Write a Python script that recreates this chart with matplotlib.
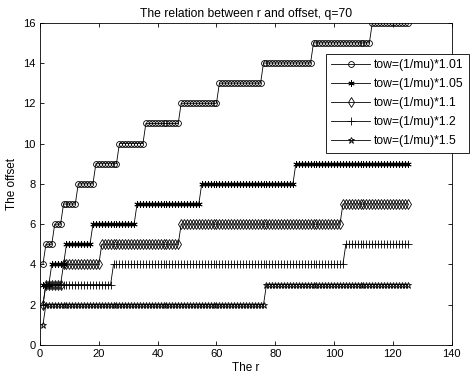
import numpy as np
import matplotlib
matplotlib.use("Agg")
import matplotlib.pyplot as plt

plt.rcParams['font.family'] = ['Liberation Sans', 'DejaVu Sans']

# r runs 1..125; each series is a step function given as (level, run length)
r = np.arange(1, 126)

labels = ["tow=(1/mu)*1.01", "tow=(1/mu)*1.05", "tow=(1/mu)*1.1",
          "tow=(1/mu)*1.2", "tow=(1/mu)*1.5"]

levels_101 = [4, 5, 6, 7, 8, 9, 10, 11, 12, 13, 14, 15, 16]
runs_101 = [1, 3, 3, 5, 6, 8, 9, 12, 13, 15, 17, 20, 13]

levels_105 = [3, 4, 5, 6, 7, 8, 9]
runs_105 = [3, 5, 9, 15, 22, 32, 39]

levels_11 = [2, 3, 4, 5, 6, 7]
runs_11 = [1, 6, 13, 27, 55, 23]

levels_12 = [2, 3, 4, 5]
runs_12 = [1, 23, 79, 22]

levels_15 = [1, 2, 3]
runs_15 = [1, 75, 49]

series = [np.repeat(levels_101, runs_101), np.repeat(levels_105, runs_105),
          np.repeat(levels_11, runs_11), np.repeat(levels_12, runs_12),
          np.repeat(levels_15, runs_15)]
markers = ['o', (6, 2, 0), 'd', '+', '*']
msizes = [4.2, 4.5, 4.8, 5.5, 5.0]

fig = plt.figure(figsize=(4.74, 3.79), dpi=100)
ax = fig.add_axes([0.0844, 0.0897, 0.953 - 0.0844, 0.940 - 0.0897])

for y, m, ms, lab in zip(series, markers, msizes, labels):
    ax.plot(r, y, color='black', lw=0.6, marker=m, ms=ms, mfc='none',
            mec='black', mew=0.6, label=lab)

ax.set_xlim(0, 140)
ax.set_ylim(0, 16)
ax.set_xticks(np.arange(0, 141, 20))
ax.set_yticks(np.arange(0, 17, 2))
ax.tick_params(direction='in', top=True, right=True, labelsize=8, length=3,
               width=0.6, pad=3)
for s in ax.spines.values():
    s.set_linewidth(0.6)

ax.set_title("The relation between r and offset, q=70", fontsize=8.7, pad=4)
ax.set_xlabel("The r", fontsize=8.5, labelpad=2)
ax.set_ylabel("The offset", fontsize=8.5, labelpad=4)

leg = fig.legend(loc='upper left', bbox_to_anchor=(326 / 474, 1 - 54 / 379),
                 fontsize=8.7, frameon=True, fancybox=False, edgecolor='black',
                 framealpha=1, numpoints=1, handlelength=3.2,
                 handletextpad=0.35, labelspacing=0.58, borderpad=0.45,
                 borderaxespad=0)
leg.get_frame().set_linewidth(0.6)

fig.savefig("out.png", dpi=100)
